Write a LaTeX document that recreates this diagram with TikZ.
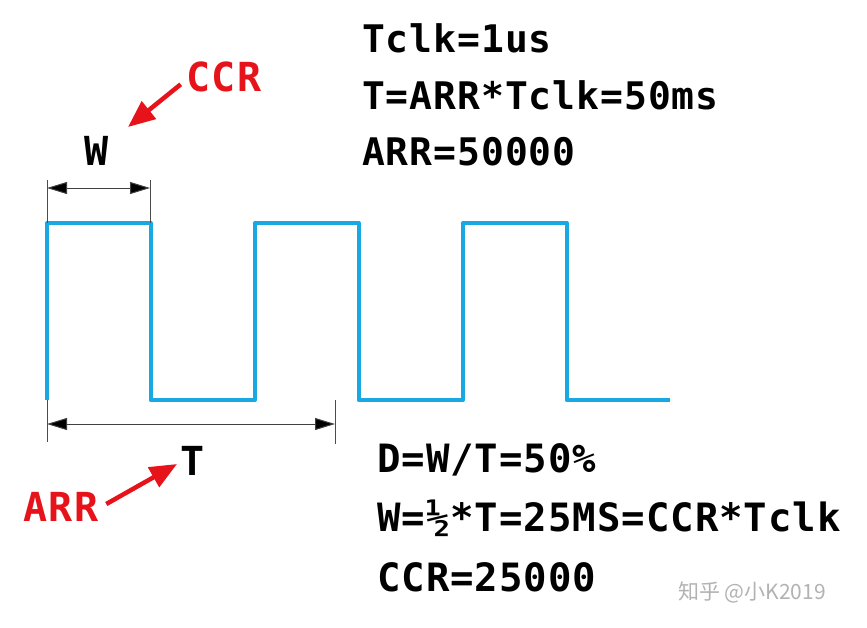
\documentclass[tikz,border=0pt]{standalone}
\usepackage{fontspec}
\usepackage{tikz}
\usetikzlibrary{arrows.meta}
\newfontfamily\hei[LetterSpace=2.5]{DejaVu Sans Mono}
\newfontfamily\cjk{Noto Sans CJK SC}
\definecolor{wave}{RGB}{24,168,226}
\definecolor{mark}{RGB}{230,20,26}

\begin{document}
\begin{tikzpicture}[x=1pt,y=-1pt,
		txt/.style={font=\hei\bfseries\fontsize{38}{40}\selectfont, inner sep=0pt, anchor=base west},
		lbl/.style={font=\hei\bfseries\fontsize{40}{42}\selectfont, inner sep=0pt},
		ext/.style={draw=black!70, line width=0.9pt},
		dim/.style={draw=black!75, line width=1pt, {Triangle[length=20pt,width=12pt,fill=black]}-{Triangle[length=20pt,width=12pt,fill=black]}},
		pointer/.style={draw=mark, line width=4.5pt, -{Triangle[length=27pt,width=22pt]}}]
		\def\hi{223};
		\def\lo{400};
		\def\hp{103.5};
		\def\x0{47};
	
		\useasboundingbox (0,0) rectangle (867,627);
	
		% square wave
		\draw [wave, line width=4pt, line join=round] (\x0,\lo) -- (\x0,\hi)
			-- ++(\hp,0) -- ++(0,{\lo-\hi}) -- ++({\hp+1},0) -- ++(0,{\hi-\lo})
			-- ++(\hp,0) -- ++(0,{\lo-\hi}) -- ++({\hp+1},0) -- ++(0,{\hi-\lo})
			-- ++(\hp,0) -- ++(0,{\lo-\hi}) -- ++(\hp,0);
	
		% width W
		\coordinate (wa) at (\x0,188);
		\coordinate (wb) at (150,188);
		\draw [ext] (\x0,\hi) -- (\x0,180);
		\draw [ext] (150,\hi) -- (150,180);
		\draw [dim] (wa) -- (wb);
		\node [lbl] (w) at (97,151) {W};
	
		% period T
		\coordinate (ta) at (\x0,424);
		\coordinate (tb) at (335,424);
		\draw [ext] (\x0,\lo) -- (\x0,442);
		\draw [ext] (335,400) -- (335,444);
		\draw [dim] (ta) -- (tb);
		\node [lbl] (t) at (193,461) {T};
	
		% registers
		\node [lbl, text=mark] (ccr) at (224,77) {CCR};
		\coordinate (ccrtip) at (128,127);
		\draw [pointer] (ccr.south west) ++(-6,-8) -- (ccrtip);
		\node [lbl, text=mark] (arr) at (61,507) {ARR};
		\coordinate (arrtip) at (177,464);
		\draw [pointer] (arr.east) ++(8,-3) -- (arrtip);
	
		% formulas
		\node [txt] (tclk) at (362,52) {Tclk=1us};
		\node [txt] (tper) at (362,109) {T=ARR*Tclk=50ms};
		\node [txt] (arrval) at (362,165) {ARR=50000};
		\node [txt, font=\hei\bfseries\fontsize{39}{41}\selectfont] (duty) at (377,472) {D=W/T=50\%};
		\node [txt, font=\hei\bfseries\fontsize{39}{41}\selectfont] (wval) at (377,531) {W=½*T=25MS=CCR*Tclk};
		\node [txt, font=\hei\bfseries\fontsize{39}{41}\selectfont] (ccrval) at (377,591) {CCR=25000};
	
		\node [font=\cjk\fontsize{21}{22}\selectfont, text=black!30, inner sep=0pt] (mark) at (752,592) {知乎 @小K2019};
	\end{tikzpicture}
\end{document}
